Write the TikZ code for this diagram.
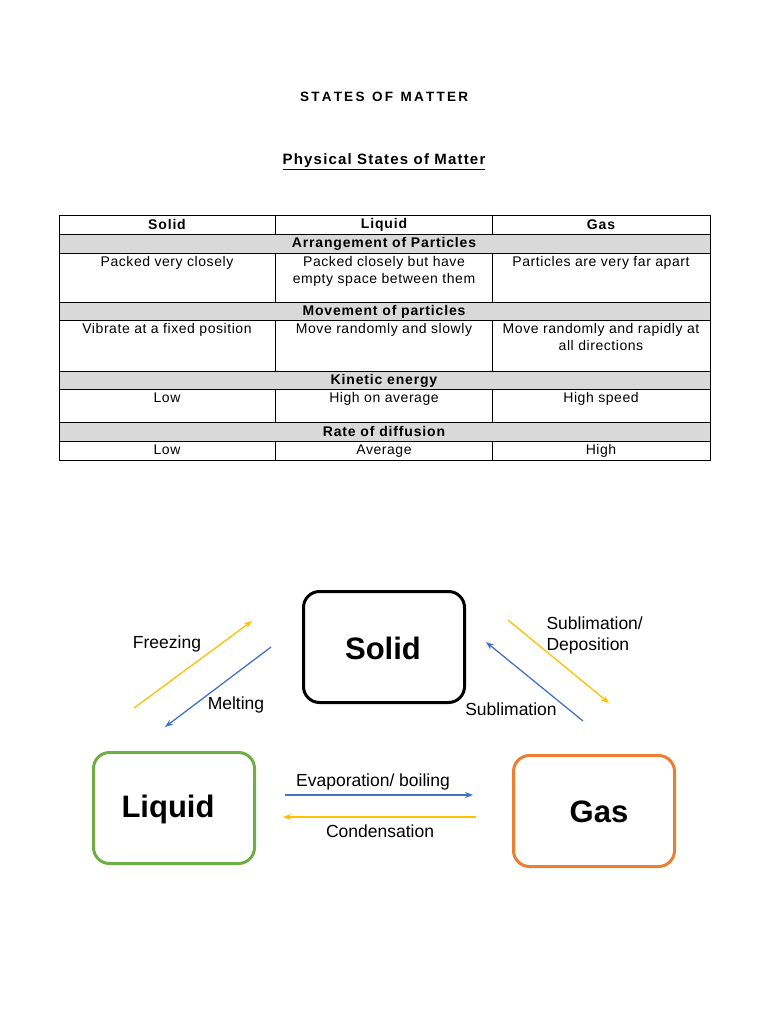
\documentclass[tikz,border=0pt]{standalone}
\usepackage{fontspec}
\setmainfont{Liberation Sans}
\usetikzlibrary{arrows.meta}
\definecolor{yel}{HTML}{FFC000}
\definecolor{blu}{HTML}{4472C4}
\definecolor{grn}{HTML}{70AD47}
\definecolor{org}{HTML}{ED7D31}
\definecolor{gry}{HTML}{D9D9D9}
\begin{document}
\begin{tikzpicture}[x=1pt,y=-1pt,
  cell/.style={font=\fontsize{14}{17}\selectfont\addfontfeature{LetterSpace=4},align=center,anchor=north},
  hd/.style={font=\fontsize{14}{17}\selectfont\bfseries\addfontfeature{LetterSpace=6},anchor=center},
  state/.style={draw,line width=3pt,rounded corners=16pt,minimum width=161pt,minimum height=111pt},
  stxt/.style={font=\fontsize{31}{36}\selectfont\bfseries},
  lbl/.style={font=\fontsize{17.5}{21}\selectfont},
  arr/.style={line width=1.3pt,-{Stealth[length=8pt,width=6pt]}}]
\useasboundingbox (0,0) rectangle (768,1024);
\node[font=\fontsize{13.5}{15}\selectfont\bfseries] (t) at (384,97) {S\,T\,A\,T\,E\,S\ \ O\,F\ \ M\,A\,T\,T\,E\,R};
\node[font=\fontsize{15}{17}\selectfont\bfseries\addfontfeature{LetterSpace=8}] (st) at (384,162) {\underline{Physical States of Matter}};
% table
\foreach \a/\b in {234/253,302/320,371/389,422/441}{\fill[gry] (59,\a) rectangle (710,\b);}
\draw[line width=0.6pt] (59,215) rectangle (710,460);
\foreach \y in {234,253,302,320,371,389,422,441}{\draw[line width=0.6pt] (59,\y)--(710,\y);}
\foreach \a/\b in {215/234,253/302,320/371,389/422,441/460}{\draw[line width=0.6pt] (275,\a)--(275,\b) (492,\a)--(492,\b);}
\node[hd] (h1) at (167,224.5) {Solid};
\node[hd] (h2) at (384,224.5) {Liquid};
\node[hd] (h3) at (601,224.5) {Gas};
\node[hd] (g1) at (384,243.5) {Arrangement of Particles};
\node[hd] (g2) at (384,311.5) {Movement of particles};
\node[hd] (g3) at (384,380.5) {Kinetic energy};
\node[hd] (g4) at (384,431.5) {Rate of diffusion};
\node[cell] (c11) at (167,253) {Packed very closely};
\node[cell] (c12) at (384,253) {Packed closely but have\\empty space between them};
\node[cell] (c13) at (601,253) {Particles are very far apart};
\node[cell] (c21) at (167,320) {Vibrate at a fixed position};
\node[cell] (c22) at (384,320) {Move randomly and slowly};
\node[cell] (c23) at (601,320) {Move randomly and rapidly at\\all directions};
\node[cell] (c31) at (167,389) {Low};
\node[cell] (c32) at (384,389) {High on average};
\node[cell] (c33) at (601,389) {High speed};
\node[cell] (c41) at (167,441) {Low};
\node[cell] (c42) at (384,441) {Average};
\node[cell] (c43) at (601,441) {High};
% states
\node[state] (solid) at (384,647) {};
\node[state,draw=grn] (liquid) at (174,808) {};
\node[state,draw=org] (gas) at (594,811) {};
\node[stxt] (solidt) at (383,648) {Solid};
\node[stxt] (liquidt) at (168,809) {Liquid};
\node[stxt] (gast) at (599,812) {Gas};
\coordinate (f1) at (134,708); \coordinate (f2) at (252,621);
\coordinate (m1) at (271,647); \coordinate (m2) at (165,727);
\coordinate (s1) at (508,620); \coordinate (s2) at (609,703);
\coordinate (b1) at (583,721); \coordinate (b2) at (486,642);
\coordinate (e1) at (285,795); \coordinate (e2) at (473,795);
\coordinate (k1) at (476,817); \coordinate (k2) at (283,817);
\draw[arr,yel] (f1)--(f2);
\draw[arr,blu] (m1)--(m2);
\draw[arr,yel] (s1)--(s2);
\draw[arr,blu] (b1)--(b2);
\draw[arr,blu] (e1)--(e2);
\draw[arr,yel] (k1)--(k2);
\node[lbl] (lf) at (167,644) {Freezing};
\node[lbl] (lm) at (236,705) {Melting};
\node[lbl,anchor=west,align=left] (ls) at (543,635) {Sublimation/\\Deposition};
\node[lbl] (lb) at (511,709) {Sublimation};
\node[lbl] (le) at (373,782) {Evaporation/ boiling};
\node[lbl] (lc) at (380,831) {Condensation};
\end{tikzpicture}
\end{document}
